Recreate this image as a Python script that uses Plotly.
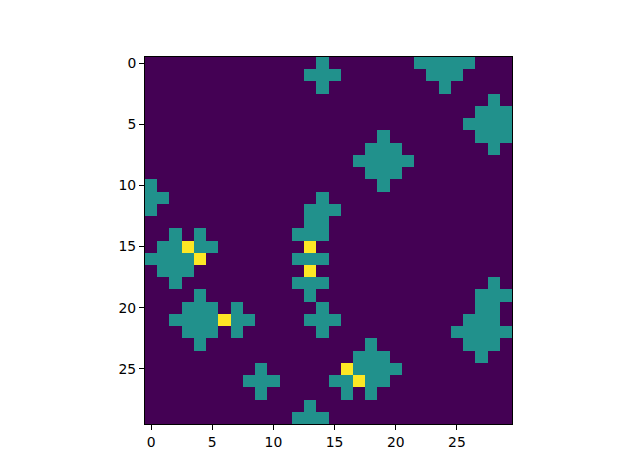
import plotly.graph_objects as go

N = 30
# Cells per row: value 1 (teal) and value 2 (yellow); everything else 0
teal_cells = {
    0: [14, 22, 23, 24, 25, 26],
    1: [13, 14, 15, 23, 24, 25],
    2: [14, 24],
    3: [28],
    4: [27, 28, 29],
    5: [26, 27, 28, 29],
    6: [19, 27, 28, 29],
    7: [18, 19, 20, 28],
    8: [17, 18, 19, 20, 21],
    9: [18, 19, 20],
    10: [0, 19],
    11: [0, 1, 14],
    12: [0, 13, 14, 15],
    13: [13, 14],
    14: [2, 4, 12, 13, 14],
    15: [1, 2, 4, 5],
    16: [0, 1, 2, 3, 12, 13, 14],
    17: [1, 2, 3],
    18: [2, 12, 13, 14, 28],
    19: [4, 13, 27, 28, 29],
    20: [3, 4, 5, 7, 14, 27, 28],
    21: [2, 3, 4, 5, 7, 8, 13, 14, 15, 26, 27, 28],
    22: [3, 4, 5, 7, 14, 25, 26, 27, 28, 29],
    23: [4, 18, 26, 27, 28],
    24: [17, 18, 19, 27],
    25: [9, 17, 18, 19, 20],
    26: [8, 9, 10, 15, 16, 18, 19],
    27: [9, 16, 18],
    28: [13],
    29: [12, 13, 14],
}
yellow_cells = {
    15: [3, 13],
    16: [4],
    17: [13],
    21: [6],
    25: [16],
    26: [17],
}

cols = list(range(N))
rows = list(range(N))
z = [[0] * N for _ in rows]
for r, cs in teal_cells.items():
    for c in cs:
        z[r][c] = 1
for r, cs in yellow_cells.items():
    for c in cs:
        z[r][c] = 2

tick_vals = [0, 5, 10, 15, 20, 25]

fig = go.Figure(go.Heatmap(
    z=z, x=cols, y=rows,
    zmin=0, zmax=2,
    colorscale=[[0, "#440154"], [0.5, "#21918c"], [1, "#fde725"]],
    showscale=False,
    hoverinfo="skip",
))

axis_common = dict(
    showgrid=False, zeroline=False,
    showline=True, linecolor="black", linewidth=1, mirror=True,
    ticks="outside", ticklen=5, tickwidth=1, tickcolor="black",
    tickvals=tick_vals, ticktext=[str(v) for v in tick_vals],
    tickfont=dict(family="DejaVu Sans", size=13.9, color="black"),
)

# page body has an 8px default margin, so the figure is offset by 8px
fig.update_layout(
    width=632, height=468,
    margin=dict(l=137, r=128, t=49, b=52),
    paper_bgcolor="white", plot_bgcolor="white",
    xaxis=dict(range=[-0.5, 29.5], **axis_common),
    yaxis=dict(range=[29.5, -0.5], **axis_common),
)

fig.write_html("out.html")
